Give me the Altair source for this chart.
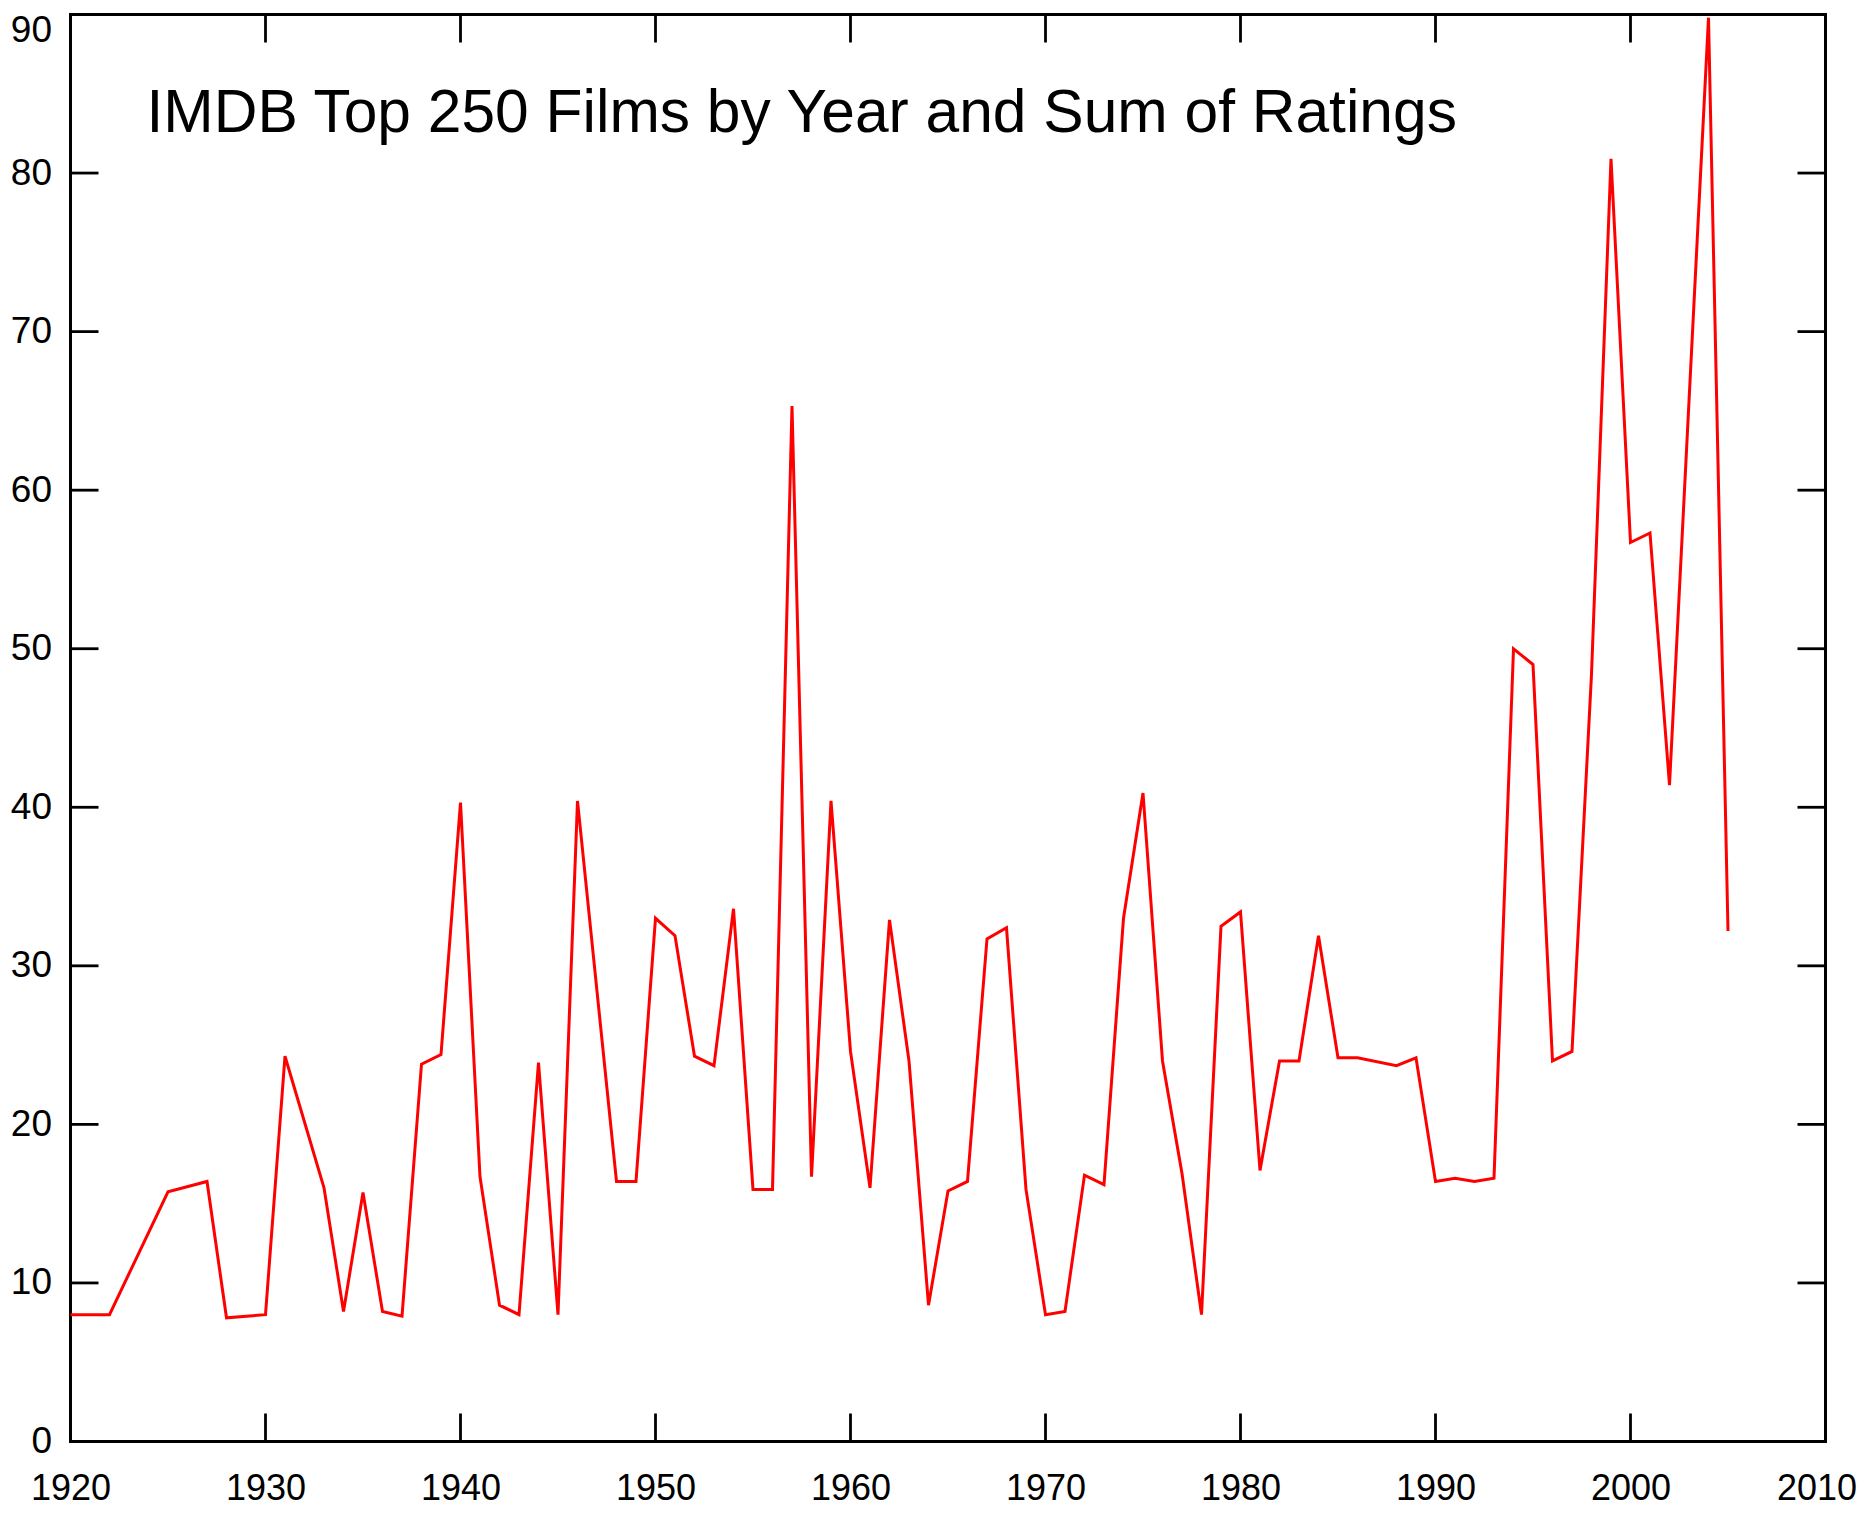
import altair as alt
import pandas as pd

# ---- data ----
years = [1920, 1922, 1925, 1927, 1928, 1930, 1931, 1933, 1934, 1935, 1936, 1937,
         1938, 1939, 1940, 1941, 1942, 1943, 1944, 1945, 1946, 1948, 1949, 1950,
         1951, 1952, 1953, 1954, 1955, 1956, 1957, 1958, 1959, 1960, 1961, 1962,
         1963, 1964, 1965, 1966, 1967, 1968, 1969, 1970, 1971, 1972, 1973, 1974,
         1975, 1976, 1977, 1978, 1979, 1980, 1981, 1982, 1983, 1984, 1985, 1986,
         1988, 1989, 1990, 1991, 1992, 1993, 1994, 1995, 1996, 1997, 1998, 1999,
         2000, 2001, 2002, 2004, 2005]
ratings = [8.0, 8.0, 15.75, 16.4, 7.8, 8.0, 24.3, 16.0, 8.2, 15.7, 8.2, 7.9,
           23.8, 24.4, 40.3, 16.7, 8.6, 8.0, 23.9, 8.0, 40.4, 16.4, 16.4, 33.0,
           31.9, 24.3, 23.7, 33.6, 15.9, 15.9, 65.3, 16.7, 40.4, 24.6, 16.0, 32.9,
           24.0, 8.6, 15.8, 16.4, 31.7, 32.4, 15.9, 8.0, 8.2, 16.8, 16.2, 33.0,
           40.9, 24.0, 16.9, 8.0, 32.5, 33.4, 17.1, 24.0, 24.0, 31.9, 24.2, 24.2,
           23.7, 24.2, 16.4, 16.6, 16.4, 16.6, 50.0, 49.0, 24.0, 24.6, 48.4, 80.9,
           56.7, 57.3, 41.4, 89.8, 32.2]
x_ticks = list(range(1920, 2011, 10))
y_ticks = list(range(0, 91, 10))
title_text = "IMDB Top 250 Films by Year and Sum of Ratings"

W, H = 1755, 1427
TICK = 28
FONT = "Liberation Sans"

df = pd.DataFrame({"year": years, "sum": ratings})
xt = pd.DataFrame({"year": x_ticks})
yt = pd.DataFrame({"sum": y_ticks})

xscale = alt.Scale(domain=[1920, 2010], nice=False, zero=False)
yscale = alt.Scale(domain=[0, 90], nice=False, zero=True)

x_axis = alt.Axis(values=x_ticks, format="d", title=None, ticks=False,
                  domain=False, grid=False, labelFontSize=36,
                  labelPadding=30, labelBaseline="top", labelFlush=False,
                  labelOverlap=False, labelFont=FONT, labelColor="black",
                  labelOffset={"condition": {"test": "datum.value === 2010", "value": -9},
                               "value": 0})
y_axis = alt.Axis(values=y_ticks, title=None, ticks=False, domain=False,
                  grid=False, labelFontSize=37, labelPadding=19,
                  labelFlush=False, labelOverlap=False, labelFont=FONT,
                  labelColor="black",
                  labelOffset={"condition": {"test": "datum.value === 90", "value": 16},
                               "value": 0})

X = alt.X("year:Q", scale=xscale, axis=x_axis)
Y = alt.Y("sum:Q", scale=yscale, axis=y_axis)

line = alt.Chart(df).mark_line(color="#ff0000", strokeWidth=3).encode(x=X, y=Y)

tick_style = dict(color="black", strokeWidth=2.8)
bottom_ticks = alt.Chart(xt).mark_rule(**tick_style).encode(
    x=X, y=alt.value(H - TICK), y2=alt.value(H))
top_ticks = alt.Chart(xt).mark_rule(**tick_style).encode(
    x=X, y=alt.value(0), y2=alt.value(TICK))
left_ticks = alt.Chart(yt).mark_rule(**tick_style).encode(
    y=Y, x=alt.value(0), x2=alt.value(TICK))
right_ticks = alt.Chart(yt).mark_rule(**tick_style).encode(
    y=Y, x=alt.value(W - TICK), x2=alt.value(W))

title = alt.Chart(pd.DataFrame({"t": [title_text]})).mark_text(
    align="left", baseline="alphabetic", fontSize=60.5, font=FONT, color="black"
).encode(x=alt.value(76), y=alt.value(117.5), text="t:N")

chart = alt.layer(
    line, bottom_ticks, top_ticks, left_ticks, right_ticks, title
).properties(
    width=W, height=H,
    autosize=alt.AutoSizeParams(type="none"),
    padding={"left": 62.5, "top": 6.5, "right": 34.5, "bottom": 66.5},
    background="white",
).configure_view(stroke="black", strokeWidth=3)

chart.save("out.html", embed_options={"renderer": "svg", "actions": False})
